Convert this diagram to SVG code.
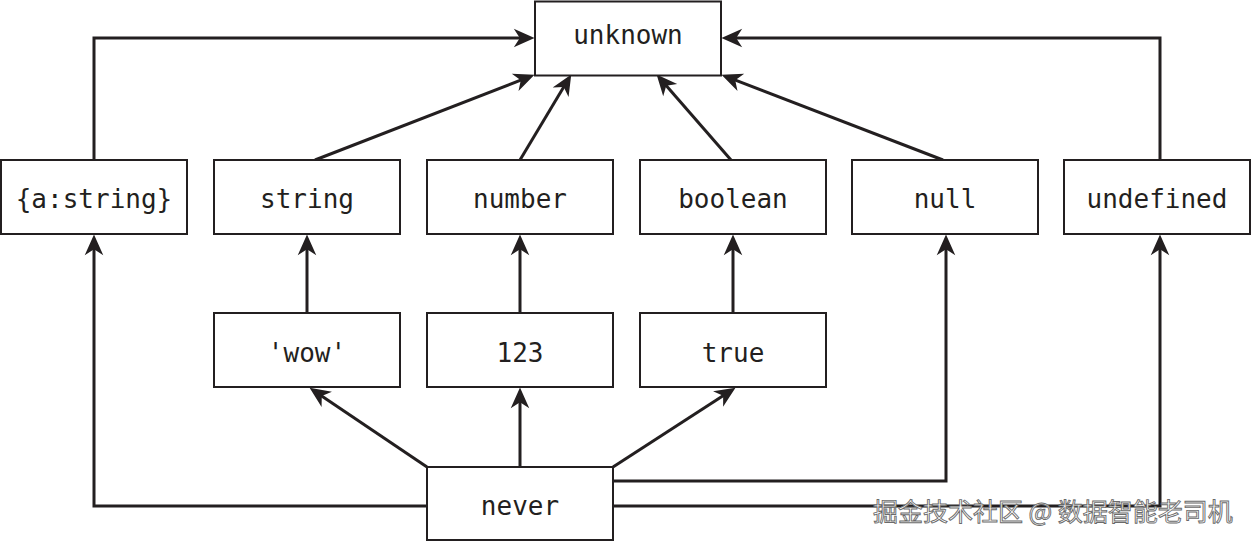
<svg xmlns="http://www.w3.org/2000/svg" width="1251" height="542" viewBox="0 0 1251 542">
<style>
.box{fill:#fff;stroke:#231f20;stroke-width:2}
.lbl{font-family:"DejaVu Sans Mono","Liberation Mono",monospace;font-size:26px;fill:#231f20;text-anchor:middle}
.ln{fill:none;stroke:#231f20;stroke-width:3;marker-end:url(#ah)}
.wm{font-family:"Noto Sans CJK SC","Noto Sans",sans-serif;font-size:25px;fill:#fff;stroke:#6a6a6a;stroke-width:0.9}
</style>
<defs>
<marker id="ah" markerUnits="userSpaceOnUse" markerWidth="24" markerHeight="22" viewBox="-20 -10 22 20" refX="-6" refY="0" orient="auto" overflow="visible">
<path d="M0,0 L-19,-8.5 L-13.5,0 L-19,8.5 Z" fill="#231f20"/>
</marker>
</defs>
<rect width="1251" height="542" fill="#fff"/>
<g id="connectors">
<path class="ln" d="M94,160 V38 H528"/>
<path class="ln" d="M1160,160 V38 H728"/>
<path class="ln" d="M315,160 L528.4,77.2"/>
<path class="ln" d="M520,160 L567.9,80.1"/>
<path class="ln" d="M731,160 L660.9,79.5"/>
<path class="ln" d="M943,160 L727.6,77.2"/>
<path class="ln" d="M307,313 V241"/>
<path class="ln" d="M520,313 V241"/>
<path class="ln" d="M733,313 V241"/>
<path class="ln" d="M427,467 L315,391.4"/>
<path class="ln" d="M520,467 V394"/>
<path class="ln" d="M613,467 L730,391.3"/>
<path class="ln" d="M427,506 H94 V241"/>
<path class="ln" d="M613,481 H946 V241"/>
<path class="ln" d="M613,506 H1160 V241"/>
</g>
<g id="n-unknown"><rect class="box" x="535" y="1.5" width="186" height="74"/><text class="lbl" x="628" y="44">unknown</text></g>
<g id="n-astring"><rect class="box" x="1" y="160" width="186" height="74"/><text class="lbl" x="94" y="208">{a:string}</text></g>
<g id="n-string"><rect class="box" x="214" y="160" width="186" height="74"/><text class="lbl" x="307" y="208">string</text></g>
<g id="n-number"><rect class="box" x="427" y="160" width="186" height="74"/><text class="lbl" x="520" y="208">number</text></g>
<g id="n-boolean"><rect class="box" x="640" y="160" width="186" height="74"/><text class="lbl" x="733" y="208">boolean</text></g>
<g id="n-null"><rect class="box" x="852" y="160" width="186" height="74"/><text class="lbl" x="945" y="208">null</text></g>
<g id="n-undefined"><rect class="box" x="1064" y="160" width="186" height="74"/><text class="lbl" x="1157" y="208">undefined</text></g>
<g id="n-wow"><rect class="box" x="214" y="313" width="186" height="74"/><text class="lbl" x="307" y="362">'wow'</text></g>
<g id="n-123"><rect class="box" x="427" y="313" width="186" height="74"/><text class="lbl" x="520" y="362">123</text></g>
<g id="n-true"><rect class="box" x="640" y="313" width="186" height="74"/><text class="lbl" x="733" y="362">true</text></g>
<g id="n-never"><rect class="box" x="427" y="467" width="186" height="73"/><text class="lbl" x="520" y="515">never</text></g>
<text class="wm" x="873" y="521">掘金技术社区 @ 数据智能老司机</text>
</svg>
